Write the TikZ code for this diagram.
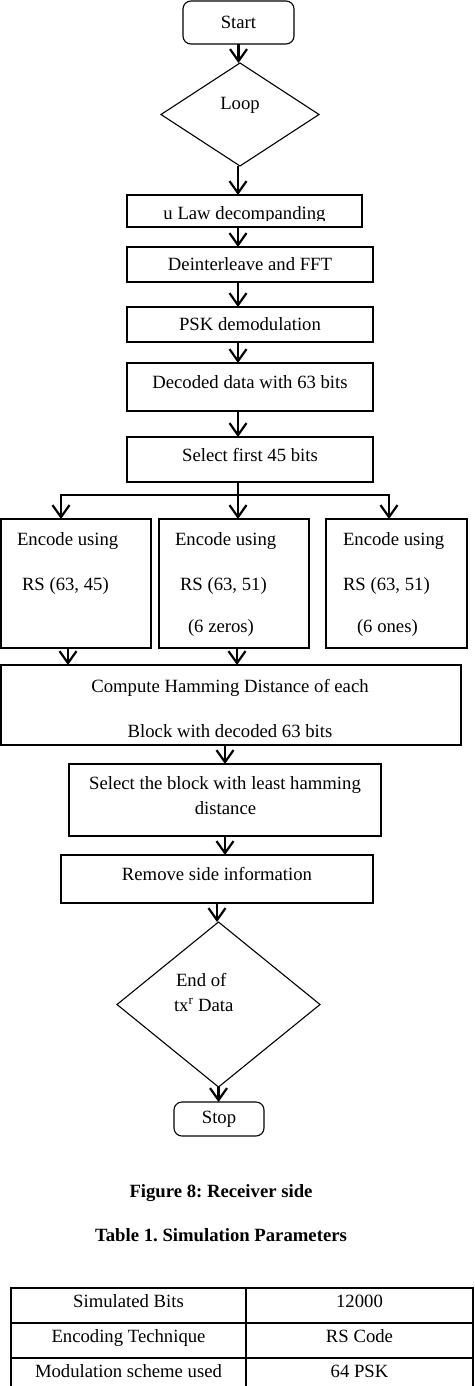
\documentclass[tikz,border=0pt]{standalone}
\usepackage{fontspec}
\setmainfont{Liberation Serif}
\usepackage{tikz}
\usetikzlibrary{shapes.geometric}
\usetikzlibrary{arrows.meta}
\usetikzlibrary{positioning}
\tikzset{>=latex}
\frenchspacing

\begin{document}
\begin{tikzpicture}[
    x=1pt, y=-1pt,
    every node/.style={font=\fontsize{18.7}{25}\selectfont, inner sep=0pt, outer sep=0pt},
    punkt/.style={rectangle, draw, line width=1.1pt},
    ende/.style={punkt, rounded corners=8pt},
    rombe/.style={diamond, draw, line width=1.1pt},
    oben/.style={text depth=10pt},
    pil/.style={draw, line width=2.2pt, -{Straight Barb[length=12pt,width=17pt]}},
    celle/.style={punkt, minimum height=35, text height=13pt, text depth=10pt},
    fet/.style={font=\fontsize{18.7}{25}\selectfont\bfseries}
    ]
\useasboundingbox (0,0) rectangle (474,1386);
% columns of the arrows
\coordinate (achse) at (238,0);
\coordinate (v1) at (61,0);
\coordinate (v3) at (389,0);
\coordinate (s1) at (68,0);
\coordinate (s2) at (237,0);

%Upper part
\node[ende, minimum width=111, minimum height=43] (start) at (238.5,22.5) {Start};
\node[rombe, minimum width=158, minimum height=103] (loop) at (240,114.5) {};
\node[anchor=base] (looptekst) at (240,110) {Loop};
\node[punkt, minimum width=235, minimum height=32] (ulaw) at (244.5,211) {};
\begin{scope}
\clip (127,195) rectangle (362,220.5);
\node[anchor=base] (ulawtekst) at (244.5,219) {u Law decompanding};
\end{scope}
\node[punkt, minimum width=246, minimum height=35] (deint) at (250,264.5) {Deinterleave and FFT};
\node[punkt, minimum width=246, minimum height=35] (psk) at (250,324.5) {PSK demodulation};
\node[punkt, oben, minimum width=246, minimum height=48] (dekod) at (250,387) {Decoded data with 63 bits};
\node[punkt, oben, minimum width=246, minimum height=45] (velg) at (250,459.5) {Select first 45 bits};

\draw[pil] (start.south) -- (start.south |- loop.north);
\draw[pil] (achse |- loop.south) -- (achse |- ulaw.north);
\draw[pil] (achse |- ulaw.south) -- (achse |- deint.north);
\draw[pil] (achse |- deint.south) -- (achse |- psk.north);
\draw[pil] (achse |- psk.south) -- (achse |- dekod.north);
\draw[pil] (achse |- dekod.south) -- (achse |- velg.north);

%Three encoders
\node[punkt, minimum width=150, minimum height=129] (enc1) at (76,583.5) {};
\node[punkt, minimum width=150, minimum height=129] (enc2) at (234,583.5) {};
\node[punkt, minimum width=141, minimum height=129] (enc3) at (396.5,583.5) {};
\node[anchor=base west] (enc1a) at (17,545) {Encode using};
\node[anchor=base west] (enc1b) at (22,590) {RS (63, 45)};
\node[anchor=base west] (enc2a) at (175,545) {Encode using};
\node[anchor=base west] (enc2b) at (180,590) {RS (63, 51)};
\node[anchor=base west] (enc2c) at (188,632) {(6 zeros)};
\node[anchor=base west] (enc3a) at (343,545) {Encode using};
\node[anchor=base west] (enc3b) at (343,590) {RS (63, 51)};
\node[anchor=base west] (enc3c) at (357,632) {(6 ones)};

\coordinate (gaffel) at (238,495);
\draw[line width=2.2pt] (achse |- velg.south) -- (gaffel);
\draw[pil] (gaffel) -| (v1 |- enc1.north);
\draw[pil] (gaffel) -| (v3 |- enc3.north);
\draw[pil] (gaffel) -- (gaffel |- enc2.north);

%Lower part
\node[punkt, minimum width=460, minimum height=80] (hamming) at (231,705) {};
\node[anchor=base] (hamminga) at (230,692) {Compute Hamming Distance of each};
\node[anchor=base] (hammingb) at (230,737) {Block with decoded 63 bits};
\node[punkt, minimum width=312, minimum height=72] (minst) at (225,800) {};
\node[anchor=base] (minsta) at (225,789) {Select the block with least hamming};
\node[anchor=base] (minstb) at (225.5,814) {distance};
\node[punkt, oben, minimum width=312, minimum height=48] (fjern) at (217,879) {Remove side information};
\node[rombe, minimum width=203, minimum height=165] (slutt) at (218.5,1004.5) {};
\node[anchor=base west] (slutta) at (176,986) {End of};
\node[anchor=base west] (sluttb) at (174,1011) {tx\textsuperscript{r} Data};
\node[ende, minimum width=90, minimum height=34] (stopp) at (219,1119) {Stop};

\draw[pil] (s1 |- enc1.south) -- (s1 |- hamming.north);
\draw[pil] (s2 |- enc2.south) -- (s2 |- hamming.north);
\draw[pil] (minst.north |- hamming.south) -- (minst.north);
\draw[pil] (minst.south) -- (minst.south |- fjern.north);
\draw[pil] (fjern.south) -- (fjern.south |- slutt.north);
\draw[pil] (slutt.south) -- (slutt.south |- stopp.north);

%Captions and table
\node[fet, anchor=base] (figtekst) at (221,1197) {Figure 8: Receiver side};
\node[fet, anchor=base] (tabtekst) at (221,1241) {Table 1. Simulation Parameters};
\node[celle, minimum width=235] (t11) at (128.5,1305.5) {Simulated Bits};
\node[celle, minimum width=227, right=0pt of t11] (t12) {12000};
\node[celle, minimum width=235, below=0pt of t11] (t21) {Encoding Technique};
\node[celle, minimum width=227, right=0pt of t21] (t22) {RS Code};
\node[celle, minimum width=235, below=0pt of t21] (t31) {Modulation scheme used};
\node[celle, minimum width=227, right=0pt of t31] (t32) {64 PSK};
\end{tikzpicture}
\end{document}
